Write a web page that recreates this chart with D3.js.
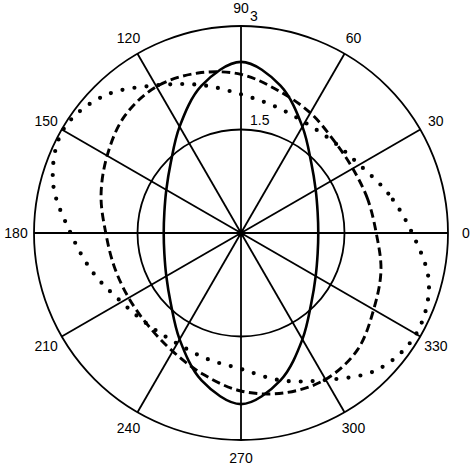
<!DOCTYPE html>
<html>
<head>
<meta charset="utf-8">
<script src="https://cdn.jsdelivr.net/npm/d3@7"></script>
<style>
  html, body { margin: 0; padding: 0; background: #fff; }
  svg { display: block; }
</style>
</head>
<body>
<svg id="chart" width="474" height="466"></svg>
<script>
// polar plot: three closed radial curves on a 0..3 grid

const ANGLES = [0, 15, 30, 45, 60, 75, 90, 105, 120, 135, 150, 165,
  180, 195, 210, 225, 240, 255, 270, 285, 300, 315, 330, 345]

const solidR = [1.12, 1.15, 1.25, 1.44, 1.78, 2.21, 2.48, 2.21, 1.78, 1.44, 1.25, 1.15,
  1.12, 1.15, 1.25, 1.44, 1.78, 2.21, 2.48, 2.21, 1.78, 1.44, 1.25, 1.15]

const dashedR = [1.96, 1.90, 1.87, 1.90, 2.01, 2.13, 2.30, 2.40, 2.45, 2.39, 2.24, 2.10,
  1.96, 1.90, 1.88, 1.90, 1.98, 2.12, 2.29, 2.40, 2.45, 2.39, 2.22, 2.10]

const dottedR = [2.48, 2.21, 1.98, 1.88, 1.85, 1.90, 2.01, 2.22, 2.47, 2.81, 2.98, 2.82,
  2.47, 2.22, 2.00, 1.89, 1.85, 1.89, 1.97, 2.21, 2.46, 2.80, 2.93, 2.82]

const SPOKES = [0, 30, 60, 90, 120, 150, 180, 210, 240, 270, 300, 330]
const RINGS = [1.5, 3]
const RING_LABELS = ['1.5', '3']

const cx = 241
const cy = 233
const R = 207
const LABEL_R = 225

const svg = d3.select('#chart')
const g = svg.append('g').attr('transform', `translate(${cx},${cy})`)

const r = d3.scaleLinear().domain([0, 3]).range([0, R])
const rad = (deg) => (deg * Math.PI) / 180
// lineRadial angle is clockwise from north; convert from math angle
const toD3 = (deg) => Math.PI / 2 - rad(deg)

// grid
g.append('g')
  .selectAll('circle')
  .data(RINGS)
  .join('circle')
  .attr('r', (d) => r(d))
  .attr('fill', 'none')
  .attr('stroke', '#000')
  .attr('stroke-width', 1.8)

g.append('g')
  .selectAll('line')
  .data(SPOKES)
  .join('line')
  .attr('x1', 0)
  .attr('y1', 0)
  .attr('x2', (d) => r(3) * Math.cos(rad(d)))
  .attr('y2', (d) => -r(3) * Math.sin(rad(d)))
  .attr('stroke', '#000')
  .attr('stroke-width', 1.8)

g.append('circle').attr('r', 3.5).attr('fill', '#000')

// angle labels
g.append('g')
  .selectAll('text')
  .data(SPOKES)
  .join('text')
  .attr('x', (d) => LABEL_R * Math.cos(rad(d)))
  .attr('y', (d) => -LABEL_R * Math.sin(rad(d)))
  .attr('text-anchor', 'middle')
  .attr('dominant-baseline', 'central')
  .attr('font-family', 'Liberation Sans, Arial, sans-serif')
  .attr('font-size', 14)
  .text((d) => d)

// radial labels along the 90 spoke
g.append('g')
  .selectAll('text')
  .data(RINGS)
  .join('text')
  .attr('x', 9)
  .attr('y', (d) => -r(d) - 5)
  .attr('font-family', 'Liberation Sans, Arial, sans-serif')
  .attr('font-size', 14)
  .text((d, i) => RING_LABELS[i])

const radial = d3.lineRadial()
  .angle((d) => toD3(d[0]))
  .radius((d) => r(d[1]))
  .curve(d3.curveCatmullRomClosed)

const series = [
  { values: dottedR, width: 4.2, dash: '0 12', cap: 'round' },
  { values: dashedR, width: 2.9, dash: '8.5 4.5', cap: 'butt' },
  { values: solidR, width: 2.6, dash: null, cap: 'butt' },
]

g.append('g')
  .selectAll('path')
  .data(series)
  .join('path')
  .attr('d', (s) => radial(ANGLES.map((a, i) => [a, s.values[i]])))
  .attr('fill', 'none')
  .attr('stroke', '#000')
  .attr('stroke-width', (s) => s.width)
  .attr('stroke-dasharray', (s) => s.dash)
  .attr('stroke-linecap', (s) => s.cap)
</script>
</body>
</html>
